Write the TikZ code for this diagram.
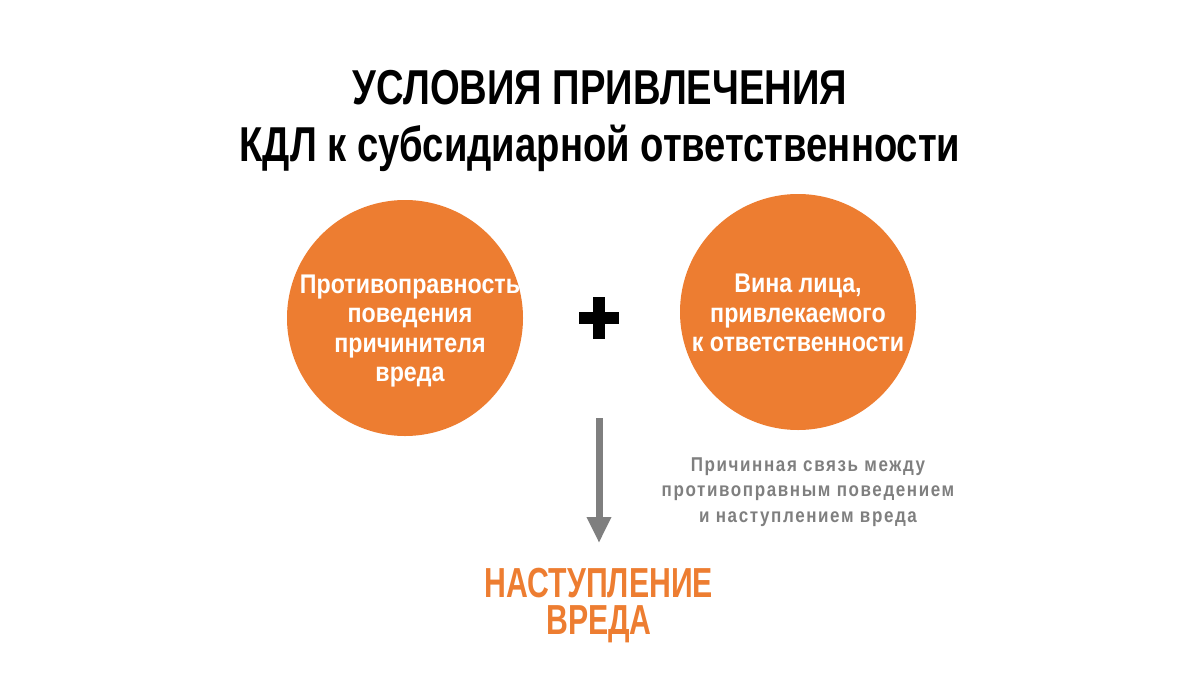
\documentclass[tikz,border=0pt]{standalone}
\usepackage{fontspec}
\setmainfont{Liberation Sans}[FakeStretch=0.8]
\newfontfamily\titlefont{Liberation Sans}[FakeStretch=0.78]
\newfontfamily\condfont{Liberation Sans}[FakeStretch=0.86]
\newfontfamily\linkfont{Liberation Sans}[FakeStretch=0.85, LetterSpace=8]
\newfontfamily\harmfont{Liberation Sans}[FakeStretch=0.72]
\usetikzlibrary{positioning, arrows.meta}
\definecolor{condorange}{HTML}{ED7D31}
\definecolor{linkgray}{HTML}{7F7F7F}

\begin{document}
\begin{tikzpicture}[
          x=1pt, y=-1pt,
          node distance=10pt,
          condition/.style={circle, fill=condorange, minimum size=236pt, inner sep=0pt},
          condtext/.style={text=white, align=center, font=\condfont\bfseries\fontsize{27}{29.5}\selectfont},
          title/.style={align=center, font=\titlefont\bfseries\fontsize{49}{57}\selectfont},
          arrow/.style={-{Triangle[width=23pt, length=26pt]}, line width=7pt, draw=linkgray}
        ]
          \useasboundingbox (0,0) rectangle (1200,675);

          % Title
          \node[title] (title) at (600,121) {УСЛОВИЯ ПРИВЛЕЧЕНИЯ\\КДЛ к субсидиарной ответственности};

          % Conditions
          \node[condition] (wrong) at (405,318) {};
          \node[condtext] (wrongtext) at (410,331) {Противоправность\\поведения\\причинителя\\вреда};
          \node[condition] (guilt) at (798,312) {};
          \node[condtext] (guilttext) at (798,313) {Вина лица,\\привлекаемого\\к ответственности};

          % Plus
          \node (plus) at (599,318) {};
          \fill ([shift={(-20,-6)}]plus.center) rectangle ([shift={(20,6)}]plus.center);
          \fill ([shift={(-6,-21)}]plus.center) rectangle ([shift={(6,21)}]plus.center);

          % Causation
          \coordinate (arrowtop) at (599,418);
          \coordinate (arrowend) at (599,543);
          \draw[arrow] (arrowtop) -- (arrowend);
          \node[text=linkgray, align=center, font=\linkfont\bfseries\fontsize{20}{25.5}\selectfont] (link) at (808,492)
            {Причинная связь между\\противоправным поведением\\и наступлением вреда};

          % Result
          \node[text=condorange, align=center, font=\harmfont\bfseries\fontsize{42}{37}\selectfont, below=22pt of arrowend] (harm)
            {НАСТУПЛЕНИЕ\\ВРЕДА};
      \end{tikzpicture}
\end{document}
